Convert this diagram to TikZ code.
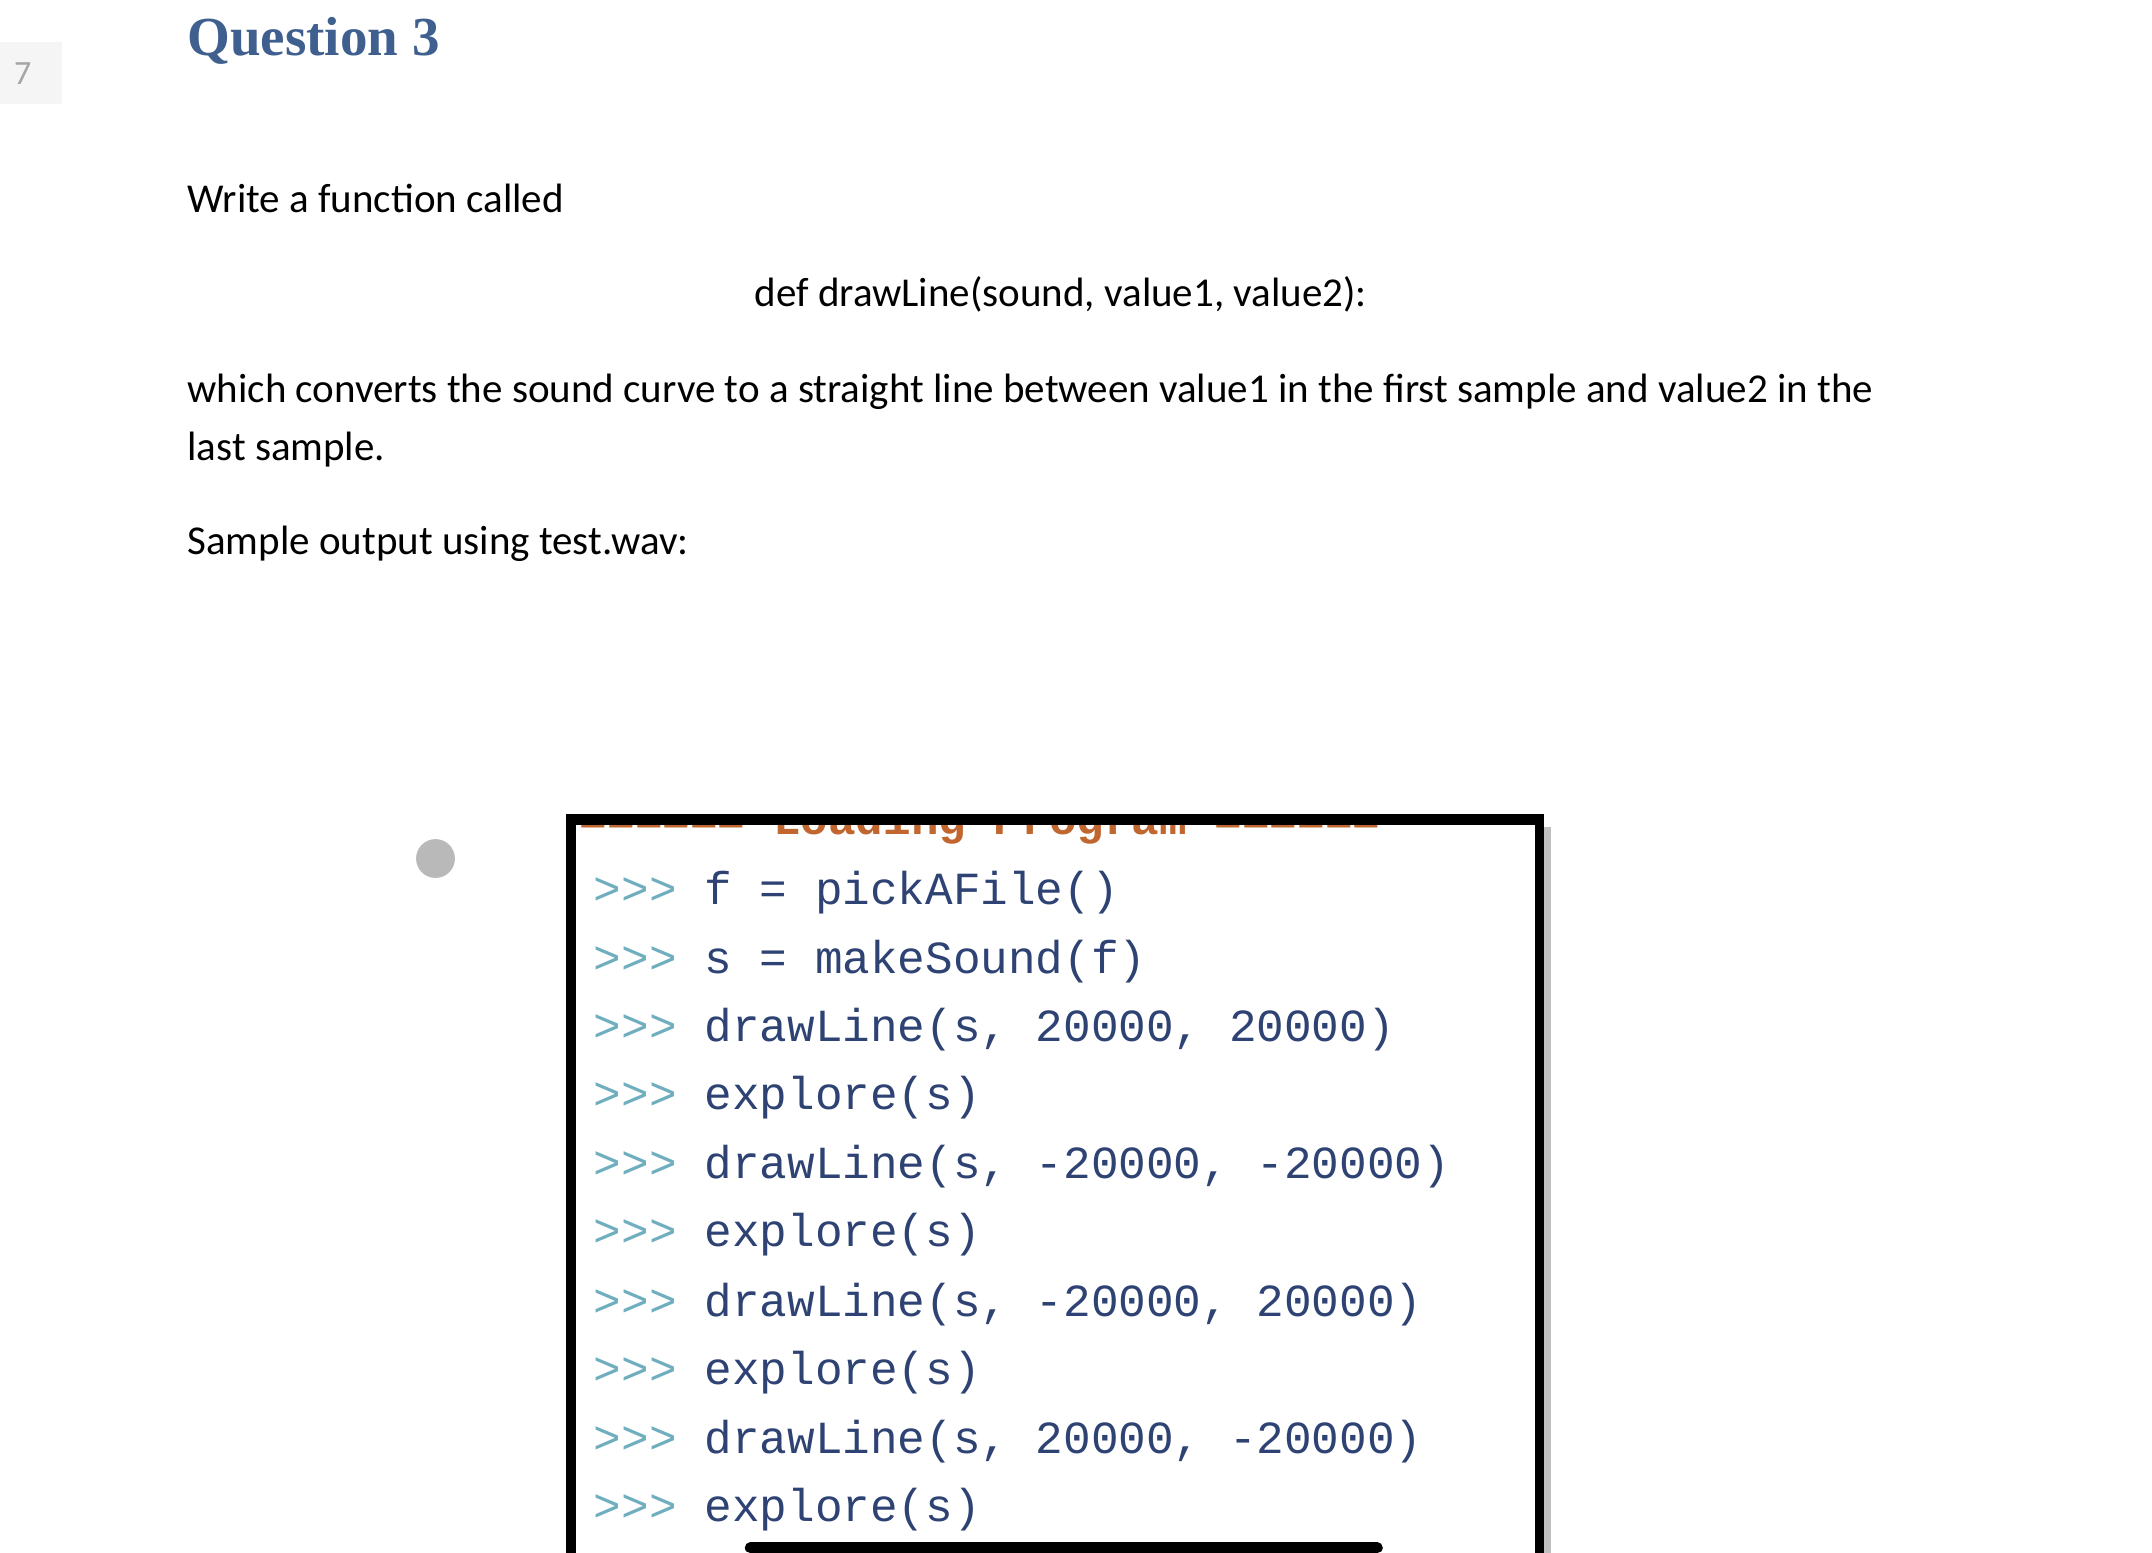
\documentclass[tikz,border=0pt]{standalone}
\usepackage{fontspec}
\setmainfont{Carlito}
\newfontfamily\qfont{Liberation Serif}
\newfontfamily\codefont{Liberation Mono}
\definecolor{qblue}{HTML}{3F5F8F}
\definecolor{codeblue}{HTML}{2E4373}
\definecolor{prompt}{HTML}{6FAEBE}
\definecolor{orng}{HTML}{C0662E}
\tikzset{
  body/.style={anchor=base west,inner sep=0pt,font=\fontsize{41}{48}\selectfont},
  code/.style={anchor=base west,inner sep=0pt,font=\codefont\fontsize{46}{52}\selectfont,text=codeblue},
  prm/.style={anchor=base west,inner sep=0pt,font=\codefont\fontsize{46}{52}\selectfont,text=prompt},
}
\begin{document}
\begin{tikzpicture}[x=1.387pt,y=-1.387pt]
\useasboundingbox (0,0) rectangle (1551.6,1119.7);
\fill[white] (0,0) rectangle (1551.6,1119.7);
\fill[gray!8] (0,30) rectangle (45,75);
\node[anchor=base west,inner sep=0pt,text=gray!70,font=\fontsize{34}{40}\selectfont] (pg) at (10,61) {7};
\node[anchor=base west,inner sep=0pt,text=qblue,font=\qfont\bfseries\fontsize{55}{60}\selectfont] (q) at (135,40) {Question 3};
\node[body] (l1) at (135,153) {Write a function called};
\node[body] (l2) at (544,221) {def drawLine(sound, value1, value2):};
\node[body] (l3) at (135,290) {which converts the sound curve to a straight line between value1 in the first sample and value2 in the};
\node[body] (l4) at (135,332) {last sample.};
\node[body] (l5) at (135,400) {Sample output using test.wav:};
\fill[gray!55] (314,619) circle (14);
\fill[gray!50] (1113,596) rectangle (1118,1120);
\fill[black] (408,587) rectangle (1113,1120);
\fill[white] (415,595) rectangle (1107,1120);
\begin{scope}
\clip (415,595) rectangle (1107,1120);
\node[anchor=base west,inner sep=0pt,text=orng,font=\codefont\bfseries\fontsize{46}{52}\selectfont] (ld) at (418,602) {====== Loading Program ======};
\foreach \y/\t [count=\i] in {652/{f = pickAFile()},702/{s = makeSound(f)},751/{drawLine(s, 20000, 20000)},800/{explore(s)},850/{drawLine(s, -20000, -20000)},899/{explore(s)},949/{drawLine(s, -20000, 20000)},998/{explore(s)},1048/{drawLine(s, 20000, -20000)},1097/{explore(s)}}{
  \node[prm] (p\i) at (428,\y) {>{}>{}>};
  \node[code] (c\i) at (508,\y) {\t};
}
\node[prm] (p11) at (428,1147) {>{}>{}>};
\end{scope}
\draw[line width=11pt,line cap=round] (541,1116) -- (993,1116);
\end{tikzpicture}
\end{document}
